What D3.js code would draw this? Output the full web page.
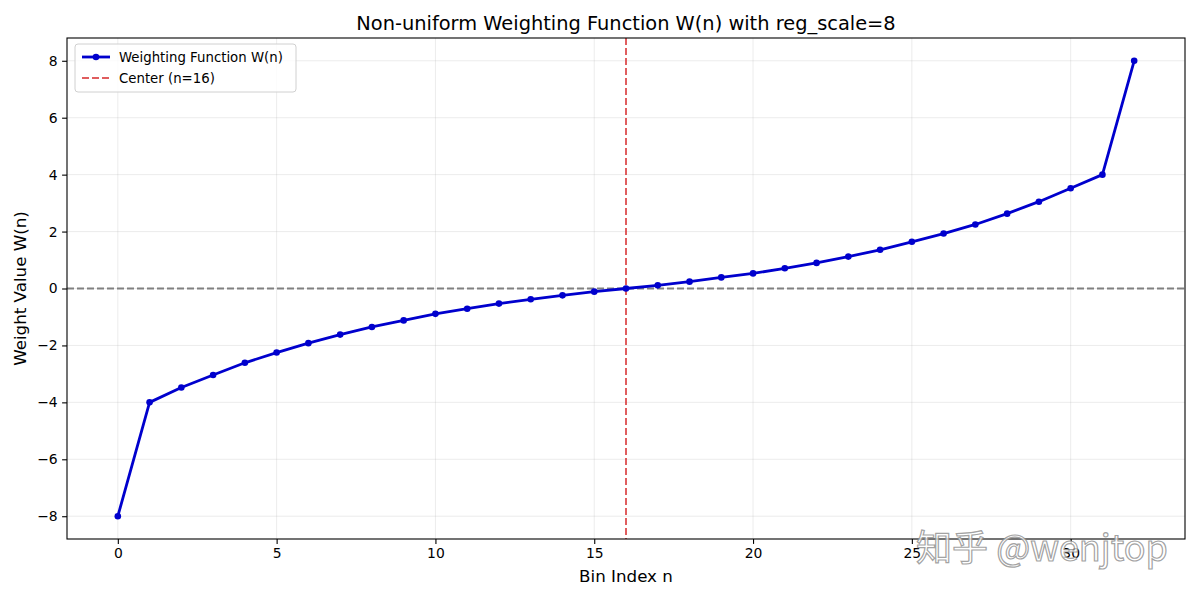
<!DOCTYPE html>
<html>
<head>
<meta charset="utf-8">
<script src="https://cdn.jsdelivr.net/npm/d3@7"></script>
<style>
  body { margin: 0; background: #fff; }
  svg { display: block; font-family: "DejaVu Sans", sans-serif; }
</style>
</head>
<body>
<svg id="svg" width="1200" height="600"></svg>
<script>
// 数据：bin 0..32, center 16
const binIndex = d3.range(0, 33);
const weights = [
  -8.00, -4.00, -3.48, -3.04, -2.61, -2.25, -1.92, -1.62, -1.35, -1.12, -0.89,
  -0.71, -0.53, -0.38, -0.24, -0.11, 0.00,
  0.11, 0.24, 0.39, 0.53, 0.71, 0.90, 1.12, 1.36, 1.64, 1.93, 2.25, 2.63,
  3.05, 3.52, 4.00, 8.00
];
const centerBin = 16;
const xTicks = [0, 5, 10, 15, 20, 25, 30];
const yTicks = [-8, -6, -4, -2, 0, 2, 4, 6, 8];

const svg = d3.select("#svg");
const plot = { left: 67, right: 1185, top: 38, bottom: 539 };

const x = d3.scaleLinear().domain([-1.6, 33.6]).range([plot.left, plot.right]);
const y = d3.scaleLinear().domain([-8.8, 8.8]).range([plot.bottom, plot.top]);

// 网格
const grid = svg.append("g");
xTicks.forEach(t => {
  grid.append("line")
    .attr("x1", x(t)).attr("x2", x(t))
    .attr("y1", plot.top).attr("y2", plot.bottom)
    .attr("stroke", "#b0b0b0").attr("stroke-opacity", 0.3).attr("stroke-width", 0.8);
});
yTicks.forEach(t => {
  grid.append("line")
    .attr("x1", plot.left).attr("x2", plot.right)
    .attr("y1", y(t)).attr("y2", y(t))
    .attr("stroke", "#b0b0b0").attr("stroke-opacity", 0.3).attr("stroke-width", 0.8);
});

// y=0 参考线
svg.append("line")
  .attr("x1", plot.left).attr("x2", plot.right)
  .attr("y1", y(0)).attr("y2", y(0))
  .attr("stroke", "#808080").attr("stroke-opacity", 1)
  .attr("stroke-width", 2).attr("stroke-dasharray", "7,3");

// 中心线
svg.append("line")
  .attr("x1", x(centerBin)).attr("x2", x(centerBin))
  .attr("y1", plot.top).attr("y2", plot.bottom)
  .attr("stroke", "#d62728").attr("stroke-opacity", 0.75)
  .attr("stroke-width", 2).attr("stroke-dasharray", "7,3");

// 曲线
const pts = binIndex.map((n, i) => [x(n), y(weights[i])]);
svg.append("path")
  .attr("d", d3.line()(pts))
  .attr("fill", "none")
  .attr("stroke", "#0000cd")
  .attr("stroke-width", 2.8)
  .attr("stroke-linejoin", "round");
svg.append("g").selectAll("circle")
  .data(pts).join("circle")
  .attr("cx", d => d[0]).attr("cy", d => d[1])
  .attr("r", 3.3).attr("fill", "#0000cd");

// 坐标框
svg.append("rect")
  .attr("x", plot.left).attr("y", plot.top)
  .attr("width", plot.right - plot.left).attr("height", plot.bottom - plot.top)
  .attr("fill", "none").attr("stroke", "#000").attr("stroke-width", 1.1);

// 坐标轴
const xAxis = d3.axisBottom(x).tickValues(xTicks).tickSize(4.9).tickPadding(4.5).tickFormat(d3.format("d"));
const yAxis = d3.axisLeft(y).tickValues(yTicks).tickSize(4.9).tickPadding(4.5)
  .tickFormat(d => d < 0 ? "\u2212" + Math.abs(d) : d);
const gx = svg.append("g").attr("transform", `translate(0,${plot.bottom})`).call(xAxis);
const gy = svg.append("g").attr("transform", `translate(${plot.left},0)`).call(yAxis);
[gx, gy].forEach(a => {
  a.select(".domain").remove();
  a.selectAll("line").attr("stroke", "#000").attr("stroke-width", 1.1);
  a.selectAll("text").attr("fill", "#000").style("font-size", "13.9px")
    .style("font-family", "DejaVu Sans, sans-serif");
});

// 标题和轴标签
svg.append("text")
  .attr("x", (plot.left + plot.right) / 2).attr("y", 30)
  .attr("text-anchor", "middle").style("font-size", "19.4px")
  .text("Non-uniform Weighting Function W(n) with reg_scale=8");
svg.append("text")
  .attr("x", (plot.left + plot.right) / 2).attr("y", 582)
  .attr("text-anchor", "middle").style("font-size", "16.7px")
  .text("Bin Index n");
svg.append("text")
  .attr("transform", `translate(26,${(plot.top + plot.bottom) / 2}) rotate(-90)`)
  .attr("text-anchor", "middle").style("font-size", "16.7px")
  .text("Weight Value W(n)");

// 图例
const lg = svg.append("g").attr("transform", "translate(75,44)");
lg.append("rect")
  .attr("width", 221).attr("height", 48).attr("rx", 3)
  .attr("fill", "#fff").attr("fill-opacity", 0.8)
  .attr("stroke", "#d0d0d0").attr("stroke-width", 1);
lg.append("line").attr("x1", 7).attr("x2", 35).attr("y1", 13).attr("y2", 13)
  .attr("stroke", "#0000cd").attr("stroke-width", 2.8);
lg.append("circle").attr("cx", 21).attr("cy", 13).attr("r", 3.3).attr("fill", "#0000cd");
lg.append("text").attr("x", 44).attr("y", 18).style("font-size", "13.3px").text("Weighting Function W(n)");
lg.append("line").attr("x1", 7).attr("x2", 35).attr("y1", 34).attr("y2", 34)
  .attr("stroke", "#d62728").attr("stroke-opacity", 0.75)
  .attr("stroke-width", 2).attr("stroke-dasharray", "7,3");
lg.append("text").attr("x", 44).attr("y", 39).style("font-size", "13.3px").text("Center (n=16)");

// 水印
svg.append("text")
  .attr("x", 1042).attr("y", 561)
  .attr("text-anchor", "middle")
  .style("font-family", "Noto Sans CJK SC, sans-serif")
  .style("font-size", "36px")
  .attr("fill", "#ffffff").attr("fill-opacity", 0.75)
  .attr("stroke", "#8a8a8a").attr("stroke-opacity", 0.8).attr("stroke-width", 1.2)
  .text("知乎 @wenjtop");
</script>
</body>
</html>
